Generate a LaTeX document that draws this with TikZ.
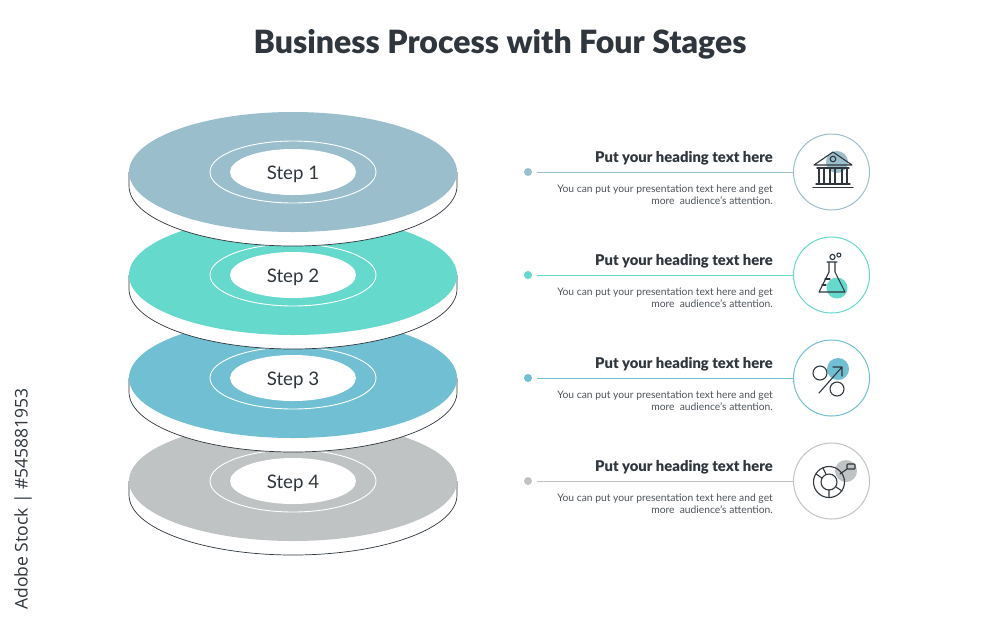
\documentclass[tikz,border=0pt]{standalone}
\usepackage{fontspec}
\setmainfont{Lato}
\newfontfamily\sidefont{Open Sans}
\newfontfamily\heavyfont{Lato Black}
\definecolor{ink}{HTML}{2F363D}
\definecolor{cA}{HTML}{9ABECC}
\definecolor{cB}{HTML}{64D9CC}
\definecolor{cC}{HTML}{70BFD3}
\definecolor{cD}{HTML}{BFC3C4}
\usetikzlibrary{shapes.geometric}
\tikzset{
  titletext/.style={font=\heavyfont\fontsize{32}{36}\selectfont,text=ink,inner sep=0pt},
  steplabel/.style={ellipse,fill=white,minimum width=126pt,minimum height=46pt,inner sep=0pt,
     font=\fontsize{18.7}{20}\selectfont,text=ink},
  headtext/.style={anchor=east,inner sep=0pt,font=\heavyfont\fontsize{14.8}{16}\selectfont,text=ink},
  bodytext/.style={anchor=north east,inner sep=0pt,align=right,font=\fontsize{10.3}{12}\selectfont,text=ink!85},
  icon/.style={draw=ink,line width=1.1pt,line cap=round,line join=round},
  dotnode/.style={circle,inner sep=0pt,minimum size=8pt},
  badge/.style={circle,fill=white,minimum size=76pt,inner sep=0pt,line width=1pt},
}
\newcommand{\stepword}[1]{\raisebox{-7pt}[0pt][0pt]{Step #1}}
\newcommand{\disc}[3]{% y, colour, name
  \fill[white] (129,#1) -- (129,#1+14) arc[start angle=180,end angle=0,x radius=164,y radius=60] -- (457,#1) -- cycle;
  \draw[ink,line width=0.7pt] (129,#1) -- (129,#1+14) arc[start angle=180,end angle=0,x radius=164,y radius=60] -- (457,#1);
  \fill[#2] (293,#1) ellipse[x radius=164,y radius=60];
  \draw[white,line width=0.9pt] (293,#1) ellipse[x radius=83,y radius=31];
}
\newcommand{\rowtext}[4]{% y, colour, name, -
  \node[headtext] (head#3) at (773,#1-13.5) {Put your heading text here};
  \node[bodytext] (body#3) at (773,#1+12.5) {You can put your presentation text here and get\\more\ \ audience's attention.};
  \node[dotnode,fill=#2] (dot#3) at (528,#1) {};
  \node[badge,draw=#2] (badge#3) at (831.5,#1) {};
  \coordinate (start#3) at (537,#1);
  \draw[#2,line width=1pt] (start#3) -- (badge#3);
}
\begin{document}
\begin{tikzpicture}[x=1pt,y=-1pt]
\useasboundingbox (0,0) rectangle (1000,625);
\fill[white] (0,0) rectangle (1000,625);
\node[titletext] (title) at (500,44) {Business Process with Four Stages};
\disc{481}{cD}{4}\node[steplabel] (step4) at (293,481) {\stepword{4}};
\disc{378}{cC}{3}\node[steplabel] (step3) at (293,378) {\stepword{3}};
\disc{275}{cB}{2}\node[steplabel] (step2) at (293,275) {\stepword{2}};
\disc{172}{cA}{1}\node[steplabel] (step1) at (293,172) {\stepword{1}};
\rowtext{172}{cA}{1}{}
\rowtext{275}{cB}{2}{}
\rowtext{378}{cC}{3}{}
\rowtext{481}{cD}{4}{}
% bank icon
\fill[cA] (837,162) circle (11);
\draw[icon] (814,165) -- (833,152) -- (852,165) -- cycle;
\draw[icon] (833,159) circle (2.8);
\draw[icon] (817,168) -- (849,168);
\foreach \cx in {821.5,832.5,844.5}{
  \draw[icon] (\cx-2.5,168) -- (\cx-2.5,183) (\cx+2.5,168) -- (\cx+2.5,183);
}
\draw[icon] (816,184) -- (850,184) (813,187.5) -- (853,187.5);
% flask icon
\fill[cB] (837,288) circle (10.5);
\draw[icon] (827,262) -- (837,262) (829,262) -- (829,272) -- (819,292) -- (845,292) -- (835,272) -- (835,262);
\draw[icon] (825,279) -- (830,279) (822,285) -- (826,285);
\draw[icon] (832.5,257) circle (2.6) (838.8,255) circle (2);
% percent icon
\fill[cC] (838,369) circle (11);
\draw[icon] (820,373) circle (7) (837,389) circle (7);
\draw[icon] (819,393) -- (842,367) (833,367) -- (842,367) -- (842,376);
% donut icon
\fill[cD] (846,471) circle (11);
\draw[icon] (829,482) circle (15.5) (829,482) circle (8);
\draw[icon] (829,490) -- (829,497.5) (822,478) -- (816,474) (836,487) -- (842,491) (826,474.3) -- (823,468);
\draw[icon] (840,474) -- (847,469);
\draw[icon,rounded corners=0.8pt] (847,464) rectangle (855,469);
% stock line
\node[rotate=90,inner sep=0pt,font=\sidefont\fontsize{17.5}{18}\selectfont,text=ink] (stock) at (23,499) {Adobe Stock | \#545881953};
\end{tikzpicture}
\end{document}
